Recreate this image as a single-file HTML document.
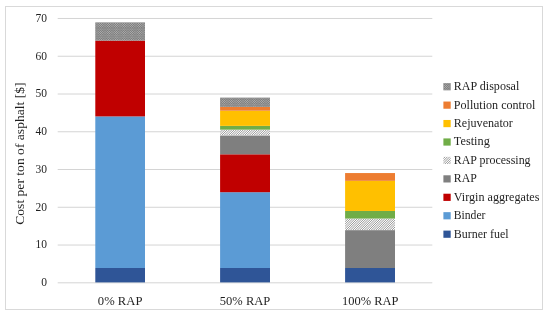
<!DOCTYPE html>
<html><head><meta charset="utf-8"><title>Cost per ton of asphalt</title>
<style>
html,body{margin:0;padding:0;background:#fff;}
svg{display:block}
text{font-family:"Liberation Serif",serif;fill:#1f1f1f;}
</style></head><body>
<svg width="550" height="319" viewBox="0 0 550 319">
<defs>
</defs>
<rect x="0" y="0" width="550" height="319" fill="#fff"/>
<rect x="5.5" y="6.5" width="537" height="303" fill="#fff" stroke="#D9D9D9" stroke-width="1"/>

<line x1="57.7" x2="432.3" y1="282.80" y2="282.80" stroke="#D4D4D4" stroke-width="1"/>
<line x1="57.7" x2="432.3" y1="245.04" y2="245.04" stroke="#D4D4D4" stroke-width="1"/>
<line x1="57.7" x2="432.3" y1="207.28" y2="207.28" stroke="#D4D4D4" stroke-width="1"/>
<line x1="57.7" x2="432.3" y1="169.52" y2="169.52" stroke="#D4D4D4" stroke-width="1"/>
<line x1="57.7" x2="432.3" y1="131.76" y2="131.76" stroke="#D4D4D4" stroke-width="1"/>
<line x1="57.7" x2="432.3" y1="94.00" y2="94.00" stroke="#D4D4D4" stroke-width="1"/>
<line x1="57.7" x2="432.3" y1="56.24" y2="56.24" stroke="#D4D4D4" stroke-width="1"/>
<line x1="57.7" x2="432.3" y1="18.48" y2="18.48" stroke="#D4D4D4" stroke-width="1"/>
<rect x="95.3" y="268.00" width="49.7" height="14.40" fill="#2F5597"/>
<rect x="95.3" y="116.40" width="49.7" height="151.60" fill="#5B9BD5"/>
<rect x="95.3" y="40.60" width="49.7" height="75.80" fill="#C00000"/>
<clipPath id="c1"><rect x="95.3" y="22.41" width="49.7" height="18.19"/></clipPath><rect x="95.3" y="22.41" width="49.7" height="18.19" fill="#7F7F7F"/><path clip-path="url(#c1)" fill="#CFCFCF" d="M93.15 21.75h0.75v0.75h-0.75zM95.45 21.75h0.75v0.75h-0.75zM97.75 21.75h0.75v0.75h-0.75zM100.05 21.75h0.75v0.75h-0.75zM102.35 21.75h0.75v0.75h-0.75zM104.65 21.75h0.75v0.75h-0.75zM106.95 21.75h0.75v0.75h-0.75zM109.25 21.75h0.75v0.75h-0.75zM111.55 21.75h0.75v0.75h-0.75zM113.85 21.75h0.75v0.75h-0.75zM116.15 21.75h0.75v0.75h-0.75zM118.45 21.75h0.75v0.75h-0.75zM120.75 21.75h0.75v0.75h-0.75zM123.05 21.75h0.75v0.75h-0.75zM125.35 21.75h0.75v0.75h-0.75zM127.65 21.75h0.75v0.75h-0.75zM129.95 21.75h0.75v0.75h-0.75zM132.25 21.75h0.75v0.75h-0.75zM134.55 21.75h0.75v0.75h-0.75zM136.85 21.75h0.75v0.75h-0.75zM139.15 21.75h0.75v0.75h-0.75zM141.45 21.75h0.75v0.75h-0.75zM143.75 21.75h0.75v0.75h-0.75zM92.00 22.90h0.75v0.75h-0.75zM94.30 22.90h0.75v0.75h-0.75zM96.60 22.90h0.75v0.75h-0.75zM98.90 22.90h0.75v0.75h-0.75zM101.20 22.90h0.75v0.75h-0.75zM103.50 22.90h0.75v0.75h-0.75zM105.80 22.90h0.75v0.75h-0.75zM108.10 22.90h0.75v0.75h-0.75zM110.40 22.90h0.75v0.75h-0.75zM112.70 22.90h0.75v0.75h-0.75zM115.00 22.90h0.75v0.75h-0.75zM117.30 22.90h0.75v0.75h-0.75zM119.60 22.90h0.75v0.75h-0.75zM121.90 22.90h0.75v0.75h-0.75zM124.20 22.90h0.75v0.75h-0.75zM126.50 22.90h0.75v0.75h-0.75zM128.80 22.90h0.75v0.75h-0.75zM131.10 22.90h0.75v0.75h-0.75zM133.40 22.90h0.75v0.75h-0.75zM135.70 22.90h0.75v0.75h-0.75zM138.00 22.90h0.75v0.75h-0.75zM140.30 22.90h0.75v0.75h-0.75zM142.60 22.90h0.75v0.75h-0.75zM144.90 22.90h0.75v0.75h-0.75zM93.15 24.05h0.75v0.75h-0.75zM95.45 24.05h0.75v0.75h-0.75zM97.75 24.05h0.75v0.75h-0.75zM100.05 24.05h0.75v0.75h-0.75zM102.35 24.05h0.75v0.75h-0.75zM104.65 24.05h0.75v0.75h-0.75zM106.95 24.05h0.75v0.75h-0.75zM109.25 24.05h0.75v0.75h-0.75zM111.55 24.05h0.75v0.75h-0.75zM113.85 24.05h0.75v0.75h-0.75zM116.15 24.05h0.75v0.75h-0.75zM118.45 24.05h0.75v0.75h-0.75zM120.75 24.05h0.75v0.75h-0.75zM123.05 24.05h0.75v0.75h-0.75zM125.35 24.05h0.75v0.75h-0.75zM127.65 24.05h0.75v0.75h-0.75zM129.95 24.05h0.75v0.75h-0.75zM132.25 24.05h0.75v0.75h-0.75zM134.55 24.05h0.75v0.75h-0.75zM136.85 24.05h0.75v0.75h-0.75zM139.15 24.05h0.75v0.75h-0.75zM141.45 24.05h0.75v0.75h-0.75zM143.75 24.05h0.75v0.75h-0.75zM92.00 25.20h0.75v0.75h-0.75zM94.30 25.20h0.75v0.75h-0.75zM96.60 25.20h0.75v0.75h-0.75zM98.90 25.20h0.75v0.75h-0.75zM101.20 25.20h0.75v0.75h-0.75zM103.50 25.20h0.75v0.75h-0.75zM105.80 25.20h0.75v0.75h-0.75zM108.10 25.20h0.75v0.75h-0.75zM110.40 25.20h0.75v0.75h-0.75zM112.70 25.20h0.75v0.75h-0.75zM115.00 25.20h0.75v0.75h-0.75zM117.30 25.20h0.75v0.75h-0.75zM119.60 25.20h0.75v0.75h-0.75zM121.90 25.20h0.75v0.75h-0.75zM124.20 25.20h0.75v0.75h-0.75zM126.50 25.20h0.75v0.75h-0.75zM128.80 25.20h0.75v0.75h-0.75zM131.10 25.20h0.75v0.75h-0.75zM133.40 25.20h0.75v0.75h-0.75zM135.70 25.20h0.75v0.75h-0.75zM138.00 25.20h0.75v0.75h-0.75zM140.30 25.20h0.75v0.75h-0.75zM142.60 25.20h0.75v0.75h-0.75zM144.90 25.20h0.75v0.75h-0.75zM93.15 26.35h0.75v0.75h-0.75zM95.45 26.35h0.75v0.75h-0.75zM97.75 26.35h0.75v0.75h-0.75zM100.05 26.35h0.75v0.75h-0.75zM102.35 26.35h0.75v0.75h-0.75zM104.65 26.35h0.75v0.75h-0.75zM106.95 26.35h0.75v0.75h-0.75zM109.25 26.35h0.75v0.75h-0.75zM111.55 26.35h0.75v0.75h-0.75zM113.85 26.35h0.75v0.75h-0.75zM116.15 26.35h0.75v0.75h-0.75zM118.45 26.35h0.75v0.75h-0.75zM120.75 26.35h0.75v0.75h-0.75zM123.05 26.35h0.75v0.75h-0.75zM125.35 26.35h0.75v0.75h-0.75zM127.65 26.35h0.75v0.75h-0.75zM129.95 26.35h0.75v0.75h-0.75zM132.25 26.35h0.75v0.75h-0.75zM134.55 26.35h0.75v0.75h-0.75zM136.85 26.35h0.75v0.75h-0.75zM139.15 26.35h0.75v0.75h-0.75zM141.45 26.35h0.75v0.75h-0.75zM143.75 26.35h0.75v0.75h-0.75zM92.00 27.50h0.75v0.75h-0.75zM94.30 27.50h0.75v0.75h-0.75zM96.60 27.50h0.75v0.75h-0.75zM98.90 27.50h0.75v0.75h-0.75zM101.20 27.50h0.75v0.75h-0.75zM103.50 27.50h0.75v0.75h-0.75zM105.80 27.50h0.75v0.75h-0.75zM108.10 27.50h0.75v0.75h-0.75zM110.40 27.50h0.75v0.75h-0.75zM112.70 27.50h0.75v0.75h-0.75zM115.00 27.50h0.75v0.75h-0.75zM117.30 27.50h0.75v0.75h-0.75zM119.60 27.50h0.75v0.75h-0.75zM121.90 27.50h0.75v0.75h-0.75zM124.20 27.50h0.75v0.75h-0.75zM126.50 27.50h0.75v0.75h-0.75zM128.80 27.50h0.75v0.75h-0.75zM131.10 27.50h0.75v0.75h-0.75zM133.40 27.50h0.75v0.75h-0.75zM135.70 27.50h0.75v0.75h-0.75zM138.00 27.50h0.75v0.75h-0.75zM140.30 27.50h0.75v0.75h-0.75zM142.60 27.50h0.75v0.75h-0.75zM144.90 27.50h0.75v0.75h-0.75zM93.15 28.65h0.75v0.75h-0.75zM95.45 28.65h0.75v0.75h-0.75zM97.75 28.65h0.75v0.75h-0.75zM100.05 28.65h0.75v0.75h-0.75zM102.35 28.65h0.75v0.75h-0.75zM104.65 28.65h0.75v0.75h-0.75zM106.95 28.65h0.75v0.75h-0.75zM109.25 28.65h0.75v0.75h-0.75zM111.55 28.65h0.75v0.75h-0.75zM113.85 28.65h0.75v0.75h-0.75zM116.15 28.65h0.75v0.75h-0.75zM118.45 28.65h0.75v0.75h-0.75zM120.75 28.65h0.75v0.75h-0.75zM123.05 28.65h0.75v0.75h-0.75zM125.35 28.65h0.75v0.75h-0.75zM127.65 28.65h0.75v0.75h-0.75zM129.95 28.65h0.75v0.75h-0.75zM132.25 28.65h0.75v0.75h-0.75zM134.55 28.65h0.75v0.75h-0.75zM136.85 28.65h0.75v0.75h-0.75zM139.15 28.65h0.75v0.75h-0.75zM141.45 28.65h0.75v0.75h-0.75zM143.75 28.65h0.75v0.75h-0.75zM92.00 29.80h0.75v0.75h-0.75zM94.30 29.80h0.75v0.75h-0.75zM96.60 29.80h0.75v0.75h-0.75zM98.90 29.80h0.75v0.75h-0.75zM101.20 29.80h0.75v0.75h-0.75zM103.50 29.80h0.75v0.75h-0.75zM105.80 29.80h0.75v0.75h-0.75zM108.10 29.80h0.75v0.75h-0.75zM110.40 29.80h0.75v0.75h-0.75zM112.70 29.80h0.75v0.75h-0.75zM115.00 29.80h0.75v0.75h-0.75zM117.30 29.80h0.75v0.75h-0.75zM119.60 29.80h0.75v0.75h-0.75zM121.90 29.80h0.75v0.75h-0.75zM124.20 29.80h0.75v0.75h-0.75zM126.50 29.80h0.75v0.75h-0.75zM128.80 29.80h0.75v0.75h-0.75zM131.10 29.80h0.75v0.75h-0.75zM133.40 29.80h0.75v0.75h-0.75zM135.70 29.80h0.75v0.75h-0.75zM138.00 29.80h0.75v0.75h-0.75zM140.30 29.80h0.75v0.75h-0.75zM142.60 29.80h0.75v0.75h-0.75zM144.90 29.80h0.75v0.75h-0.75zM93.15 30.95h0.75v0.75h-0.75zM95.45 30.95h0.75v0.75h-0.75zM97.75 30.95h0.75v0.75h-0.75zM100.05 30.95h0.75v0.75h-0.75zM102.35 30.95h0.75v0.75h-0.75zM104.65 30.95h0.75v0.75h-0.75zM106.95 30.95h0.75v0.75h-0.75zM109.25 30.95h0.75v0.75h-0.75zM111.55 30.95h0.75v0.75h-0.75zM113.85 30.95h0.75v0.75h-0.75zM116.15 30.95h0.75v0.75h-0.75zM118.45 30.95h0.75v0.75h-0.75zM120.75 30.95h0.75v0.75h-0.75zM123.05 30.95h0.75v0.75h-0.75zM125.35 30.95h0.75v0.75h-0.75zM127.65 30.95h0.75v0.75h-0.75zM129.95 30.95h0.75v0.75h-0.75zM132.25 30.95h0.75v0.75h-0.75zM134.55 30.95h0.75v0.75h-0.75zM136.85 30.95h0.75v0.75h-0.75zM139.15 30.95h0.75v0.75h-0.75zM141.45 30.95h0.75v0.75h-0.75zM143.75 30.95h0.75v0.75h-0.75zM92.00 32.10h0.75v0.75h-0.75zM94.30 32.10h0.75v0.75h-0.75zM96.60 32.10h0.75v0.75h-0.75zM98.90 32.10h0.75v0.75h-0.75zM101.20 32.10h0.75v0.75h-0.75zM103.50 32.10h0.75v0.75h-0.75zM105.80 32.10h0.75v0.75h-0.75zM108.10 32.10h0.75v0.75h-0.75zM110.40 32.10h0.75v0.75h-0.75zM112.70 32.10h0.75v0.75h-0.75zM115.00 32.10h0.75v0.75h-0.75zM117.30 32.10h0.75v0.75h-0.75zM119.60 32.10h0.75v0.75h-0.75zM121.90 32.10h0.75v0.75h-0.75zM124.20 32.10h0.75v0.75h-0.75zM126.50 32.10h0.75v0.75h-0.75zM128.80 32.10h0.75v0.75h-0.75zM131.10 32.10h0.75v0.75h-0.75zM133.40 32.10h0.75v0.75h-0.75zM135.70 32.10h0.75v0.75h-0.75zM138.00 32.10h0.75v0.75h-0.75zM140.30 32.10h0.75v0.75h-0.75zM142.60 32.10h0.75v0.75h-0.75zM144.90 32.10h0.75v0.75h-0.75zM93.15 33.25h0.75v0.75h-0.75zM95.45 33.25h0.75v0.75h-0.75zM97.75 33.25h0.75v0.75h-0.75zM100.05 33.25h0.75v0.75h-0.75zM102.35 33.25h0.75v0.75h-0.75zM104.65 33.25h0.75v0.75h-0.75zM106.95 33.25h0.75v0.75h-0.75zM109.25 33.25h0.75v0.75h-0.75zM111.55 33.25h0.75v0.75h-0.75zM113.85 33.25h0.75v0.75h-0.75zM116.15 33.25h0.75v0.75h-0.75zM118.45 33.25h0.75v0.75h-0.75zM120.75 33.25h0.75v0.75h-0.75zM123.05 33.25h0.75v0.75h-0.75zM125.35 33.25h0.75v0.75h-0.75zM127.65 33.25h0.75v0.75h-0.75zM129.95 33.25h0.75v0.75h-0.75zM132.25 33.25h0.75v0.75h-0.75zM134.55 33.25h0.75v0.75h-0.75zM136.85 33.25h0.75v0.75h-0.75zM139.15 33.25h0.75v0.75h-0.75zM141.45 33.25h0.75v0.75h-0.75zM143.75 33.25h0.75v0.75h-0.75zM92.00 34.40h0.75v0.75h-0.75zM94.30 34.40h0.75v0.75h-0.75zM96.60 34.40h0.75v0.75h-0.75zM98.90 34.40h0.75v0.75h-0.75zM101.20 34.40h0.75v0.75h-0.75zM103.50 34.40h0.75v0.75h-0.75zM105.80 34.40h0.75v0.75h-0.75zM108.10 34.40h0.75v0.75h-0.75zM110.40 34.40h0.75v0.75h-0.75zM112.70 34.40h0.75v0.75h-0.75zM115.00 34.40h0.75v0.75h-0.75zM117.30 34.40h0.75v0.75h-0.75zM119.60 34.40h0.75v0.75h-0.75zM121.90 34.40h0.75v0.75h-0.75zM124.20 34.40h0.75v0.75h-0.75zM126.50 34.40h0.75v0.75h-0.75zM128.80 34.40h0.75v0.75h-0.75zM131.10 34.40h0.75v0.75h-0.75zM133.40 34.40h0.75v0.75h-0.75zM135.70 34.40h0.75v0.75h-0.75zM138.00 34.40h0.75v0.75h-0.75zM140.30 34.40h0.75v0.75h-0.75zM142.60 34.40h0.75v0.75h-0.75zM144.90 34.40h0.75v0.75h-0.75zM93.15 35.55h0.75v0.75h-0.75zM95.45 35.55h0.75v0.75h-0.75zM97.75 35.55h0.75v0.75h-0.75zM100.05 35.55h0.75v0.75h-0.75zM102.35 35.55h0.75v0.75h-0.75zM104.65 35.55h0.75v0.75h-0.75zM106.95 35.55h0.75v0.75h-0.75zM109.25 35.55h0.75v0.75h-0.75zM111.55 35.55h0.75v0.75h-0.75zM113.85 35.55h0.75v0.75h-0.75zM116.15 35.55h0.75v0.75h-0.75zM118.45 35.55h0.75v0.75h-0.75zM120.75 35.55h0.75v0.75h-0.75zM123.05 35.55h0.75v0.75h-0.75zM125.35 35.55h0.75v0.75h-0.75zM127.65 35.55h0.75v0.75h-0.75zM129.95 35.55h0.75v0.75h-0.75zM132.25 35.55h0.75v0.75h-0.75zM134.55 35.55h0.75v0.75h-0.75zM136.85 35.55h0.75v0.75h-0.75zM139.15 35.55h0.75v0.75h-0.75zM141.45 35.55h0.75v0.75h-0.75zM143.75 35.55h0.75v0.75h-0.75zM92.00 36.70h0.75v0.75h-0.75zM94.30 36.70h0.75v0.75h-0.75zM96.60 36.70h0.75v0.75h-0.75zM98.90 36.70h0.75v0.75h-0.75zM101.20 36.70h0.75v0.75h-0.75zM103.50 36.70h0.75v0.75h-0.75zM105.80 36.70h0.75v0.75h-0.75zM108.10 36.70h0.75v0.75h-0.75zM110.40 36.70h0.75v0.75h-0.75zM112.70 36.70h0.75v0.75h-0.75zM115.00 36.70h0.75v0.75h-0.75zM117.30 36.70h0.75v0.75h-0.75zM119.60 36.70h0.75v0.75h-0.75zM121.90 36.70h0.75v0.75h-0.75zM124.20 36.70h0.75v0.75h-0.75zM126.50 36.70h0.75v0.75h-0.75zM128.80 36.70h0.75v0.75h-0.75zM131.10 36.70h0.75v0.75h-0.75zM133.40 36.70h0.75v0.75h-0.75zM135.70 36.70h0.75v0.75h-0.75zM138.00 36.70h0.75v0.75h-0.75zM140.30 36.70h0.75v0.75h-0.75zM142.60 36.70h0.75v0.75h-0.75zM144.90 36.70h0.75v0.75h-0.75zM93.15 37.85h0.75v0.75h-0.75zM95.45 37.85h0.75v0.75h-0.75zM97.75 37.85h0.75v0.75h-0.75zM100.05 37.85h0.75v0.75h-0.75zM102.35 37.85h0.75v0.75h-0.75zM104.65 37.85h0.75v0.75h-0.75zM106.95 37.85h0.75v0.75h-0.75zM109.25 37.85h0.75v0.75h-0.75zM111.55 37.85h0.75v0.75h-0.75zM113.85 37.85h0.75v0.75h-0.75zM116.15 37.85h0.75v0.75h-0.75zM118.45 37.85h0.75v0.75h-0.75zM120.75 37.85h0.75v0.75h-0.75zM123.05 37.85h0.75v0.75h-0.75zM125.35 37.85h0.75v0.75h-0.75zM127.65 37.85h0.75v0.75h-0.75zM129.95 37.85h0.75v0.75h-0.75zM132.25 37.85h0.75v0.75h-0.75zM134.55 37.85h0.75v0.75h-0.75zM136.85 37.85h0.75v0.75h-0.75zM139.15 37.85h0.75v0.75h-0.75zM141.45 37.85h0.75v0.75h-0.75zM143.75 37.85h0.75v0.75h-0.75zM92.00 39.00h0.75v0.75h-0.75zM94.30 39.00h0.75v0.75h-0.75zM96.60 39.00h0.75v0.75h-0.75zM98.90 39.00h0.75v0.75h-0.75zM101.20 39.00h0.75v0.75h-0.75zM103.50 39.00h0.75v0.75h-0.75zM105.80 39.00h0.75v0.75h-0.75zM108.10 39.00h0.75v0.75h-0.75zM110.40 39.00h0.75v0.75h-0.75zM112.70 39.00h0.75v0.75h-0.75zM115.00 39.00h0.75v0.75h-0.75zM117.30 39.00h0.75v0.75h-0.75zM119.60 39.00h0.75v0.75h-0.75zM121.90 39.00h0.75v0.75h-0.75zM124.20 39.00h0.75v0.75h-0.75zM126.50 39.00h0.75v0.75h-0.75zM128.80 39.00h0.75v0.75h-0.75zM131.10 39.00h0.75v0.75h-0.75zM133.40 39.00h0.75v0.75h-0.75zM135.70 39.00h0.75v0.75h-0.75zM138.00 39.00h0.75v0.75h-0.75zM140.30 39.00h0.75v0.75h-0.75zM142.60 39.00h0.75v0.75h-0.75zM144.90 39.00h0.75v0.75h-0.75zM93.15 40.15h0.75v0.75h-0.75zM95.45 40.15h0.75v0.75h-0.75zM97.75 40.15h0.75v0.75h-0.75zM100.05 40.15h0.75v0.75h-0.75zM102.35 40.15h0.75v0.75h-0.75zM104.65 40.15h0.75v0.75h-0.75zM106.95 40.15h0.75v0.75h-0.75zM109.25 40.15h0.75v0.75h-0.75zM111.55 40.15h0.75v0.75h-0.75zM113.85 40.15h0.75v0.75h-0.75zM116.15 40.15h0.75v0.75h-0.75zM118.45 40.15h0.75v0.75h-0.75zM120.75 40.15h0.75v0.75h-0.75zM123.05 40.15h0.75v0.75h-0.75zM125.35 40.15h0.75v0.75h-0.75zM127.65 40.15h0.75v0.75h-0.75zM129.95 40.15h0.75v0.75h-0.75zM132.25 40.15h0.75v0.75h-0.75zM134.55 40.15h0.75v0.75h-0.75zM136.85 40.15h0.75v0.75h-0.75zM139.15 40.15h0.75v0.75h-0.75zM141.45 40.15h0.75v0.75h-0.75zM143.75 40.15h0.75v0.75h-0.75zM92.00 41.30h0.75v0.75h-0.75zM94.30 41.30h0.75v0.75h-0.75zM96.60 41.30h0.75v0.75h-0.75zM98.90 41.30h0.75v0.75h-0.75zM101.20 41.30h0.75v0.75h-0.75zM103.50 41.30h0.75v0.75h-0.75zM105.80 41.30h0.75v0.75h-0.75zM108.10 41.30h0.75v0.75h-0.75zM110.40 41.30h0.75v0.75h-0.75zM112.70 41.30h0.75v0.75h-0.75zM115.00 41.30h0.75v0.75h-0.75zM117.30 41.30h0.75v0.75h-0.75zM119.60 41.30h0.75v0.75h-0.75zM121.90 41.30h0.75v0.75h-0.75zM124.20 41.30h0.75v0.75h-0.75zM126.50 41.30h0.75v0.75h-0.75zM128.80 41.30h0.75v0.75h-0.75zM131.10 41.30h0.75v0.75h-0.75zM133.40 41.30h0.75v0.75h-0.75zM135.70 41.30h0.75v0.75h-0.75zM138.00 41.30h0.75v0.75h-0.75zM140.30 41.30h0.75v0.75h-0.75zM142.60 41.30h0.75v0.75h-0.75zM144.90 41.30h0.75v0.75h-0.75z"/>
<rect x="220.1" y="268.00" width="49.9" height="14.40" fill="#2F5597"/>
<rect x="220.1" y="192.20" width="49.9" height="75.80" fill="#5B9BD5"/>
<rect x="220.1" y="154.30" width="49.9" height="37.90" fill="#C00000"/>
<rect x="220.1" y="135.35" width="49.9" height="18.95" fill="#7F7F7F"/>
<clipPath id="c2"><rect x="220.1" y="129.66" width="49.9" height="5.69"/></clipPath><rect x="220.1" y="129.66" width="49.9" height="5.69" fill="#fff"/><path clip-path="url(#c2)" stroke="#7F7F7F" stroke-width="0.82" fill="none" d="M214.30 135.85l6.69 -6.69M216.60 135.85l6.69 -6.69M218.90 135.85l6.69 -6.69M221.20 135.85l6.69 -6.69M223.50 135.85l6.69 -6.69M225.80 135.85l6.69 -6.69M228.10 135.85l6.69 -6.69M230.40 135.85l6.69 -6.69M232.70 135.85l6.69 -6.69M235.00 135.85l6.69 -6.69M237.30 135.85l6.69 -6.69M239.60 135.85l6.69 -6.69M241.90 135.85l6.69 -6.69M244.20 135.85l6.69 -6.69M246.50 135.85l6.69 -6.69M248.80 135.85l6.69 -6.69M251.10 135.85l6.69 -6.69M253.40 135.85l6.69 -6.69M255.70 135.85l6.69 -6.69M258.00 135.85l6.69 -6.69M260.30 135.85l6.69 -6.69M262.60 135.85l6.69 -6.69M264.90 135.85l6.69 -6.69M267.20 135.85l6.69 -6.69M269.50 135.85l6.69 -6.69"/>
<rect x="220.1" y="125.87" width="49.9" height="3.79" fill="#70AD47"/>
<rect x="220.1" y="110.71" width="49.9" height="15.16" fill="#FFC000"/>
<rect x="220.1" y="106.92" width="49.9" height="3.79" fill="#ED7D31"/>
<clipPath id="c3"><rect x="220.1" y="97.64" width="49.9" height="9.29"/></clipPath><rect x="220.1" y="97.64" width="49.9" height="9.29" fill="#7F7F7F"/><path clip-path="url(#c3)" fill="#CFCFCF" d="M216.20 96.50h0.75v0.75h-0.75zM218.50 96.50h0.75v0.75h-0.75zM220.80 96.50h0.75v0.75h-0.75zM223.10 96.50h0.75v0.75h-0.75zM225.40 96.50h0.75v0.75h-0.75zM227.70 96.50h0.75v0.75h-0.75zM230.00 96.50h0.75v0.75h-0.75zM232.30 96.50h0.75v0.75h-0.75zM234.60 96.50h0.75v0.75h-0.75zM236.90 96.50h0.75v0.75h-0.75zM239.20 96.50h0.75v0.75h-0.75zM241.50 96.50h0.75v0.75h-0.75zM243.80 96.50h0.75v0.75h-0.75zM246.10 96.50h0.75v0.75h-0.75zM248.40 96.50h0.75v0.75h-0.75zM250.70 96.50h0.75v0.75h-0.75zM253.00 96.50h0.75v0.75h-0.75zM255.30 96.50h0.75v0.75h-0.75zM257.60 96.50h0.75v0.75h-0.75zM259.90 96.50h0.75v0.75h-0.75zM262.20 96.50h0.75v0.75h-0.75zM264.50 96.50h0.75v0.75h-0.75zM266.80 96.50h0.75v0.75h-0.75zM269.10 96.50h0.75v0.75h-0.75zM217.35 97.65h0.75v0.75h-0.75zM219.65 97.65h0.75v0.75h-0.75zM221.95 97.65h0.75v0.75h-0.75zM224.25 97.65h0.75v0.75h-0.75zM226.55 97.65h0.75v0.75h-0.75zM228.85 97.65h0.75v0.75h-0.75zM231.15 97.65h0.75v0.75h-0.75zM233.45 97.65h0.75v0.75h-0.75zM235.75 97.65h0.75v0.75h-0.75zM238.05 97.65h0.75v0.75h-0.75zM240.35 97.65h0.75v0.75h-0.75zM242.65 97.65h0.75v0.75h-0.75zM244.95 97.65h0.75v0.75h-0.75zM247.25 97.65h0.75v0.75h-0.75zM249.55 97.65h0.75v0.75h-0.75zM251.85 97.65h0.75v0.75h-0.75zM254.15 97.65h0.75v0.75h-0.75zM256.45 97.65h0.75v0.75h-0.75zM258.75 97.65h0.75v0.75h-0.75zM261.05 97.65h0.75v0.75h-0.75zM263.35 97.65h0.75v0.75h-0.75zM265.65 97.65h0.75v0.75h-0.75zM267.95 97.65h0.75v0.75h-0.75zM270.25 97.65h0.75v0.75h-0.75zM216.20 98.80h0.75v0.75h-0.75zM218.50 98.80h0.75v0.75h-0.75zM220.80 98.80h0.75v0.75h-0.75zM223.10 98.80h0.75v0.75h-0.75zM225.40 98.80h0.75v0.75h-0.75zM227.70 98.80h0.75v0.75h-0.75zM230.00 98.80h0.75v0.75h-0.75zM232.30 98.80h0.75v0.75h-0.75zM234.60 98.80h0.75v0.75h-0.75zM236.90 98.80h0.75v0.75h-0.75zM239.20 98.80h0.75v0.75h-0.75zM241.50 98.80h0.75v0.75h-0.75zM243.80 98.80h0.75v0.75h-0.75zM246.10 98.80h0.75v0.75h-0.75zM248.40 98.80h0.75v0.75h-0.75zM250.70 98.80h0.75v0.75h-0.75zM253.00 98.80h0.75v0.75h-0.75zM255.30 98.80h0.75v0.75h-0.75zM257.60 98.80h0.75v0.75h-0.75zM259.90 98.80h0.75v0.75h-0.75zM262.20 98.80h0.75v0.75h-0.75zM264.50 98.80h0.75v0.75h-0.75zM266.80 98.80h0.75v0.75h-0.75zM269.10 98.80h0.75v0.75h-0.75zM217.35 99.95h0.75v0.75h-0.75zM219.65 99.95h0.75v0.75h-0.75zM221.95 99.95h0.75v0.75h-0.75zM224.25 99.95h0.75v0.75h-0.75zM226.55 99.95h0.75v0.75h-0.75zM228.85 99.95h0.75v0.75h-0.75zM231.15 99.95h0.75v0.75h-0.75zM233.45 99.95h0.75v0.75h-0.75zM235.75 99.95h0.75v0.75h-0.75zM238.05 99.95h0.75v0.75h-0.75zM240.35 99.95h0.75v0.75h-0.75zM242.65 99.95h0.75v0.75h-0.75zM244.95 99.95h0.75v0.75h-0.75zM247.25 99.95h0.75v0.75h-0.75zM249.55 99.95h0.75v0.75h-0.75zM251.85 99.95h0.75v0.75h-0.75zM254.15 99.95h0.75v0.75h-0.75zM256.45 99.95h0.75v0.75h-0.75zM258.75 99.95h0.75v0.75h-0.75zM261.05 99.95h0.75v0.75h-0.75zM263.35 99.95h0.75v0.75h-0.75zM265.65 99.95h0.75v0.75h-0.75zM267.95 99.95h0.75v0.75h-0.75zM270.25 99.95h0.75v0.75h-0.75zM216.20 101.10h0.75v0.75h-0.75zM218.50 101.10h0.75v0.75h-0.75zM220.80 101.10h0.75v0.75h-0.75zM223.10 101.10h0.75v0.75h-0.75zM225.40 101.10h0.75v0.75h-0.75zM227.70 101.10h0.75v0.75h-0.75zM230.00 101.10h0.75v0.75h-0.75zM232.30 101.10h0.75v0.75h-0.75zM234.60 101.10h0.75v0.75h-0.75zM236.90 101.10h0.75v0.75h-0.75zM239.20 101.10h0.75v0.75h-0.75zM241.50 101.10h0.75v0.75h-0.75zM243.80 101.10h0.75v0.75h-0.75zM246.10 101.10h0.75v0.75h-0.75zM248.40 101.10h0.75v0.75h-0.75zM250.70 101.10h0.75v0.75h-0.75zM253.00 101.10h0.75v0.75h-0.75zM255.30 101.10h0.75v0.75h-0.75zM257.60 101.10h0.75v0.75h-0.75zM259.90 101.10h0.75v0.75h-0.75zM262.20 101.10h0.75v0.75h-0.75zM264.50 101.10h0.75v0.75h-0.75zM266.80 101.10h0.75v0.75h-0.75zM269.10 101.10h0.75v0.75h-0.75zM217.35 102.25h0.75v0.75h-0.75zM219.65 102.25h0.75v0.75h-0.75zM221.95 102.25h0.75v0.75h-0.75zM224.25 102.25h0.75v0.75h-0.75zM226.55 102.25h0.75v0.75h-0.75zM228.85 102.25h0.75v0.75h-0.75zM231.15 102.25h0.75v0.75h-0.75zM233.45 102.25h0.75v0.75h-0.75zM235.75 102.25h0.75v0.75h-0.75zM238.05 102.25h0.75v0.75h-0.75zM240.35 102.25h0.75v0.75h-0.75zM242.65 102.25h0.75v0.75h-0.75zM244.95 102.25h0.75v0.75h-0.75zM247.25 102.25h0.75v0.75h-0.75zM249.55 102.25h0.75v0.75h-0.75zM251.85 102.25h0.75v0.75h-0.75zM254.15 102.25h0.75v0.75h-0.75zM256.45 102.25h0.75v0.75h-0.75zM258.75 102.25h0.75v0.75h-0.75zM261.05 102.25h0.75v0.75h-0.75zM263.35 102.25h0.75v0.75h-0.75zM265.65 102.25h0.75v0.75h-0.75zM267.95 102.25h0.75v0.75h-0.75zM270.25 102.25h0.75v0.75h-0.75zM216.20 103.40h0.75v0.75h-0.75zM218.50 103.40h0.75v0.75h-0.75zM220.80 103.40h0.75v0.75h-0.75zM223.10 103.40h0.75v0.75h-0.75zM225.40 103.40h0.75v0.75h-0.75zM227.70 103.40h0.75v0.75h-0.75zM230.00 103.40h0.75v0.75h-0.75zM232.30 103.40h0.75v0.75h-0.75zM234.60 103.40h0.75v0.75h-0.75zM236.90 103.40h0.75v0.75h-0.75zM239.20 103.40h0.75v0.75h-0.75zM241.50 103.40h0.75v0.75h-0.75zM243.80 103.40h0.75v0.75h-0.75zM246.10 103.40h0.75v0.75h-0.75zM248.40 103.40h0.75v0.75h-0.75zM250.70 103.40h0.75v0.75h-0.75zM253.00 103.40h0.75v0.75h-0.75zM255.30 103.40h0.75v0.75h-0.75zM257.60 103.40h0.75v0.75h-0.75zM259.90 103.40h0.75v0.75h-0.75zM262.20 103.40h0.75v0.75h-0.75zM264.50 103.40h0.75v0.75h-0.75zM266.80 103.40h0.75v0.75h-0.75zM269.10 103.40h0.75v0.75h-0.75zM217.35 104.55h0.75v0.75h-0.75zM219.65 104.55h0.75v0.75h-0.75zM221.95 104.55h0.75v0.75h-0.75zM224.25 104.55h0.75v0.75h-0.75zM226.55 104.55h0.75v0.75h-0.75zM228.85 104.55h0.75v0.75h-0.75zM231.15 104.55h0.75v0.75h-0.75zM233.45 104.55h0.75v0.75h-0.75zM235.75 104.55h0.75v0.75h-0.75zM238.05 104.55h0.75v0.75h-0.75zM240.35 104.55h0.75v0.75h-0.75zM242.65 104.55h0.75v0.75h-0.75zM244.95 104.55h0.75v0.75h-0.75zM247.25 104.55h0.75v0.75h-0.75zM249.55 104.55h0.75v0.75h-0.75zM251.85 104.55h0.75v0.75h-0.75zM254.15 104.55h0.75v0.75h-0.75zM256.45 104.55h0.75v0.75h-0.75zM258.75 104.55h0.75v0.75h-0.75zM261.05 104.55h0.75v0.75h-0.75zM263.35 104.55h0.75v0.75h-0.75zM265.65 104.55h0.75v0.75h-0.75zM267.95 104.55h0.75v0.75h-0.75zM270.25 104.55h0.75v0.75h-0.75zM216.20 105.70h0.75v0.75h-0.75zM218.50 105.70h0.75v0.75h-0.75zM220.80 105.70h0.75v0.75h-0.75zM223.10 105.70h0.75v0.75h-0.75zM225.40 105.70h0.75v0.75h-0.75zM227.70 105.70h0.75v0.75h-0.75zM230.00 105.70h0.75v0.75h-0.75zM232.30 105.70h0.75v0.75h-0.75zM234.60 105.70h0.75v0.75h-0.75zM236.90 105.70h0.75v0.75h-0.75zM239.20 105.70h0.75v0.75h-0.75zM241.50 105.70h0.75v0.75h-0.75zM243.80 105.70h0.75v0.75h-0.75zM246.10 105.70h0.75v0.75h-0.75zM248.40 105.70h0.75v0.75h-0.75zM250.70 105.70h0.75v0.75h-0.75zM253.00 105.70h0.75v0.75h-0.75zM255.30 105.70h0.75v0.75h-0.75zM257.60 105.70h0.75v0.75h-0.75zM259.90 105.70h0.75v0.75h-0.75zM262.20 105.70h0.75v0.75h-0.75zM264.50 105.70h0.75v0.75h-0.75zM266.80 105.70h0.75v0.75h-0.75zM269.10 105.70h0.75v0.75h-0.75zM217.35 106.85h0.75v0.75h-0.75zM219.65 106.85h0.75v0.75h-0.75zM221.95 106.85h0.75v0.75h-0.75zM224.25 106.85h0.75v0.75h-0.75zM226.55 106.85h0.75v0.75h-0.75zM228.85 106.85h0.75v0.75h-0.75zM231.15 106.85h0.75v0.75h-0.75zM233.45 106.85h0.75v0.75h-0.75zM235.75 106.85h0.75v0.75h-0.75zM238.05 106.85h0.75v0.75h-0.75zM240.35 106.85h0.75v0.75h-0.75zM242.65 106.85h0.75v0.75h-0.75zM244.95 106.85h0.75v0.75h-0.75zM247.25 106.85h0.75v0.75h-0.75zM249.55 106.85h0.75v0.75h-0.75zM251.85 106.85h0.75v0.75h-0.75zM254.15 106.85h0.75v0.75h-0.75zM256.45 106.85h0.75v0.75h-0.75zM258.75 106.85h0.75v0.75h-0.75zM261.05 106.85h0.75v0.75h-0.75zM263.35 106.85h0.75v0.75h-0.75zM265.65 106.85h0.75v0.75h-0.75zM267.95 106.85h0.75v0.75h-0.75zM270.25 106.85h0.75v0.75h-0.75z"/>
<rect x="345.1" y="268.00" width="49.9" height="14.40" fill="#2F5597"/>
<rect x="345.1" y="230.10" width="49.9" height="37.90" fill="#7F7F7F"/>
<clipPath id="c4"><rect x="345.1" y="218.54" width="49.9" height="11.56"/></clipPath><rect x="345.1" y="218.54" width="49.9" height="11.56" fill="#fff"/><path clip-path="url(#c4)" stroke="#7F7F7F" stroke-width="0.82" fill="none" d="M333.90 230.60l12.56 -12.56M336.20 230.60l12.56 -12.56M338.50 230.60l12.56 -12.56M340.80 230.60l12.56 -12.56M343.10 230.60l12.56 -12.56M345.40 230.60l12.56 -12.56M347.70 230.60l12.56 -12.56M350.00 230.60l12.56 -12.56M352.30 230.60l12.56 -12.56M354.60 230.60l12.56 -12.56M356.90 230.60l12.56 -12.56M359.20 230.60l12.56 -12.56M361.50 230.60l12.56 -12.56M363.80 230.60l12.56 -12.56M366.10 230.60l12.56 -12.56M368.40 230.60l12.56 -12.56M370.70 230.60l12.56 -12.56M373.00 230.60l12.56 -12.56M375.30 230.60l12.56 -12.56M377.60 230.60l12.56 -12.56M379.90 230.60l12.56 -12.56M382.20 230.60l12.56 -12.56M384.50 230.60l12.56 -12.56M386.80 230.60l12.56 -12.56M389.10 230.60l12.56 -12.56M391.40 230.60l12.56 -12.56M393.70 230.60l12.56 -12.56"/>
<rect x="345.1" y="210.96" width="49.9" height="7.58" fill="#70AD47"/>
<rect x="345.1" y="180.83" width="49.9" height="30.13" fill="#FFC000"/>
<rect x="345.1" y="173.06" width="49.9" height="7.77" fill="#ED7D31"/>
<text x="47" y="286.10" font-size="11.5" text-anchor="end">0</text>
<text x="47" y="248.34" font-size="11.5" text-anchor="end">10</text>
<text x="47" y="210.58" font-size="11.5" text-anchor="end">20</text>
<text x="47" y="172.82" font-size="11.5" text-anchor="end">30</text>
<text x="47" y="135.06" font-size="11.5" text-anchor="end">40</text>
<text x="47" y="97.30" font-size="11.5" text-anchor="end">50</text>
<text x="47" y="59.54" font-size="11.5" text-anchor="end">60</text>
<text x="47" y="21.78" font-size="11.5" text-anchor="end">70</text>
<text x="120.15" y="304.5" font-size="11.5" text-anchor="middle" textLength="44.6" lengthAdjust="spacingAndGlyphs">0% RAP</text>
<text x="245.05" y="304.5" font-size="11.5" text-anchor="middle" textLength="50.5" lengthAdjust="spacingAndGlyphs">50% RAP</text>
<text x="370.3" y="304.5" font-size="11.5" text-anchor="middle" textLength="56.4" lengthAdjust="spacingAndGlyphs">100% RAP</text>
<text transform="translate(23.5,153.6) rotate(-90)" font-size="11.8" text-anchor="middle" textLength="142.4" lengthAdjust="spacingAndGlyphs">Cost per ton of asphalt [$]</text>
<clipPath id="c5"><rect x="443.4" y="83.10" width="7.3" height="7.20"/></clipPath><rect x="443.4" y="83.10" width="7.3" height="7.20" fill="#7F7F7F"/><path clip-path="url(#c5)" fill="#CFCFCF" d="M439.30 82.70h0.75v0.75h-0.75zM441.60 82.70h0.75v0.75h-0.75zM443.90 82.70h0.75v0.75h-0.75zM446.20 82.70h0.75v0.75h-0.75zM448.50 82.70h0.75v0.75h-0.75zM450.80 82.70h0.75v0.75h-0.75zM440.45 83.85h0.75v0.75h-0.75zM442.75 83.85h0.75v0.75h-0.75zM445.05 83.85h0.75v0.75h-0.75zM447.35 83.85h0.75v0.75h-0.75zM449.65 83.85h0.75v0.75h-0.75zM439.30 85.00h0.75v0.75h-0.75zM441.60 85.00h0.75v0.75h-0.75zM443.90 85.00h0.75v0.75h-0.75zM446.20 85.00h0.75v0.75h-0.75zM448.50 85.00h0.75v0.75h-0.75zM450.80 85.00h0.75v0.75h-0.75zM440.45 86.15h0.75v0.75h-0.75zM442.75 86.15h0.75v0.75h-0.75zM445.05 86.15h0.75v0.75h-0.75zM447.35 86.15h0.75v0.75h-0.75zM449.65 86.15h0.75v0.75h-0.75zM439.30 87.30h0.75v0.75h-0.75zM441.60 87.30h0.75v0.75h-0.75zM443.90 87.30h0.75v0.75h-0.75zM446.20 87.30h0.75v0.75h-0.75zM448.50 87.30h0.75v0.75h-0.75zM450.80 87.30h0.75v0.75h-0.75zM440.45 88.45h0.75v0.75h-0.75zM442.75 88.45h0.75v0.75h-0.75zM445.05 88.45h0.75v0.75h-0.75zM447.35 88.45h0.75v0.75h-0.75zM449.65 88.45h0.75v0.75h-0.75zM439.30 89.60h0.75v0.75h-0.75zM441.60 89.60h0.75v0.75h-0.75zM443.90 89.60h0.75v0.75h-0.75zM446.20 89.60h0.75v0.75h-0.75zM448.50 89.60h0.75v0.75h-0.75zM450.80 89.60h0.75v0.75h-0.75zM440.45 90.75h0.75v0.75h-0.75zM442.75 90.75h0.75v0.75h-0.75zM445.05 90.75h0.75v0.75h-0.75zM447.35 90.75h0.75v0.75h-0.75zM449.65 90.75h0.75v0.75h-0.75z"/>
<text x="453.8" y="90.10" font-size="11.5" textLength="65.5" lengthAdjust="spacingAndGlyphs">RAP disposal</text>
<rect x="443.4" y="101.54" width="7.3" height="7.2" fill="#ED7D31"/>
<text x="453.8" y="108.54" font-size="11.5" textLength="81.6" lengthAdjust="spacingAndGlyphs">Pollution control</text>
<rect x="443.4" y="119.97" width="7.3" height="7.2" fill="#FFC000"/>
<text x="453.8" y="126.97" font-size="11.5" textLength="59" lengthAdjust="spacingAndGlyphs">Rejuvenator</text>
<rect x="443.4" y="138.41" width="7.3" height="7.2" fill="#70AD47"/>
<text x="453.8" y="145.41" font-size="11.5" textLength="36" lengthAdjust="spacingAndGlyphs">Testing</text>
<clipPath id="c6"><rect x="443.4" y="156.85" width="7.3" height="7.20"/></clipPath><rect x="443.4" y="156.85" width="7.3" height="7.20" fill="#fff"/><path clip-path="url(#c6)" stroke="#7F7F7F" stroke-width="0.82" fill="none" d="M435.10 164.55l8.20 -8.20M437.40 164.55l8.20 -8.20M439.70 164.55l8.20 -8.20M442.00 164.55l8.20 -8.20M444.30 164.55l8.20 -8.20M446.60 164.55l8.20 -8.20M448.90 164.55l8.20 -8.20M451.20 164.55l8.20 -8.20"/>
<text x="453.8" y="163.85" font-size="11.5" textLength="76.8" lengthAdjust="spacingAndGlyphs">RAP processing</text>
<rect x="443.4" y="175.29" width="7.3" height="7.2" fill="#7F7F7F"/>
<text x="453.8" y="182.29" font-size="11.5" textLength="23" lengthAdjust="spacingAndGlyphs">RAP</text>
<rect x="443.4" y="193.72" width="7.3" height="7.2" fill="#C00000"/>
<text x="453.8" y="200.72" font-size="11.5" textLength="85.6" lengthAdjust="spacingAndGlyphs">Virgin aggregates</text>
<rect x="443.4" y="212.16" width="7.3" height="7.2" fill="#5B9BD5"/>
<text x="453.8" y="219.16" font-size="11.5" textLength="31.7" lengthAdjust="spacingAndGlyphs">Binder</text>
<rect x="443.4" y="230.60" width="7.3" height="7.2" fill="#2F5597"/>
<text x="453.8" y="237.60" font-size="11.5" textLength="54.8" lengthAdjust="spacingAndGlyphs">Burner fuel</text>
</svg></body></html>
